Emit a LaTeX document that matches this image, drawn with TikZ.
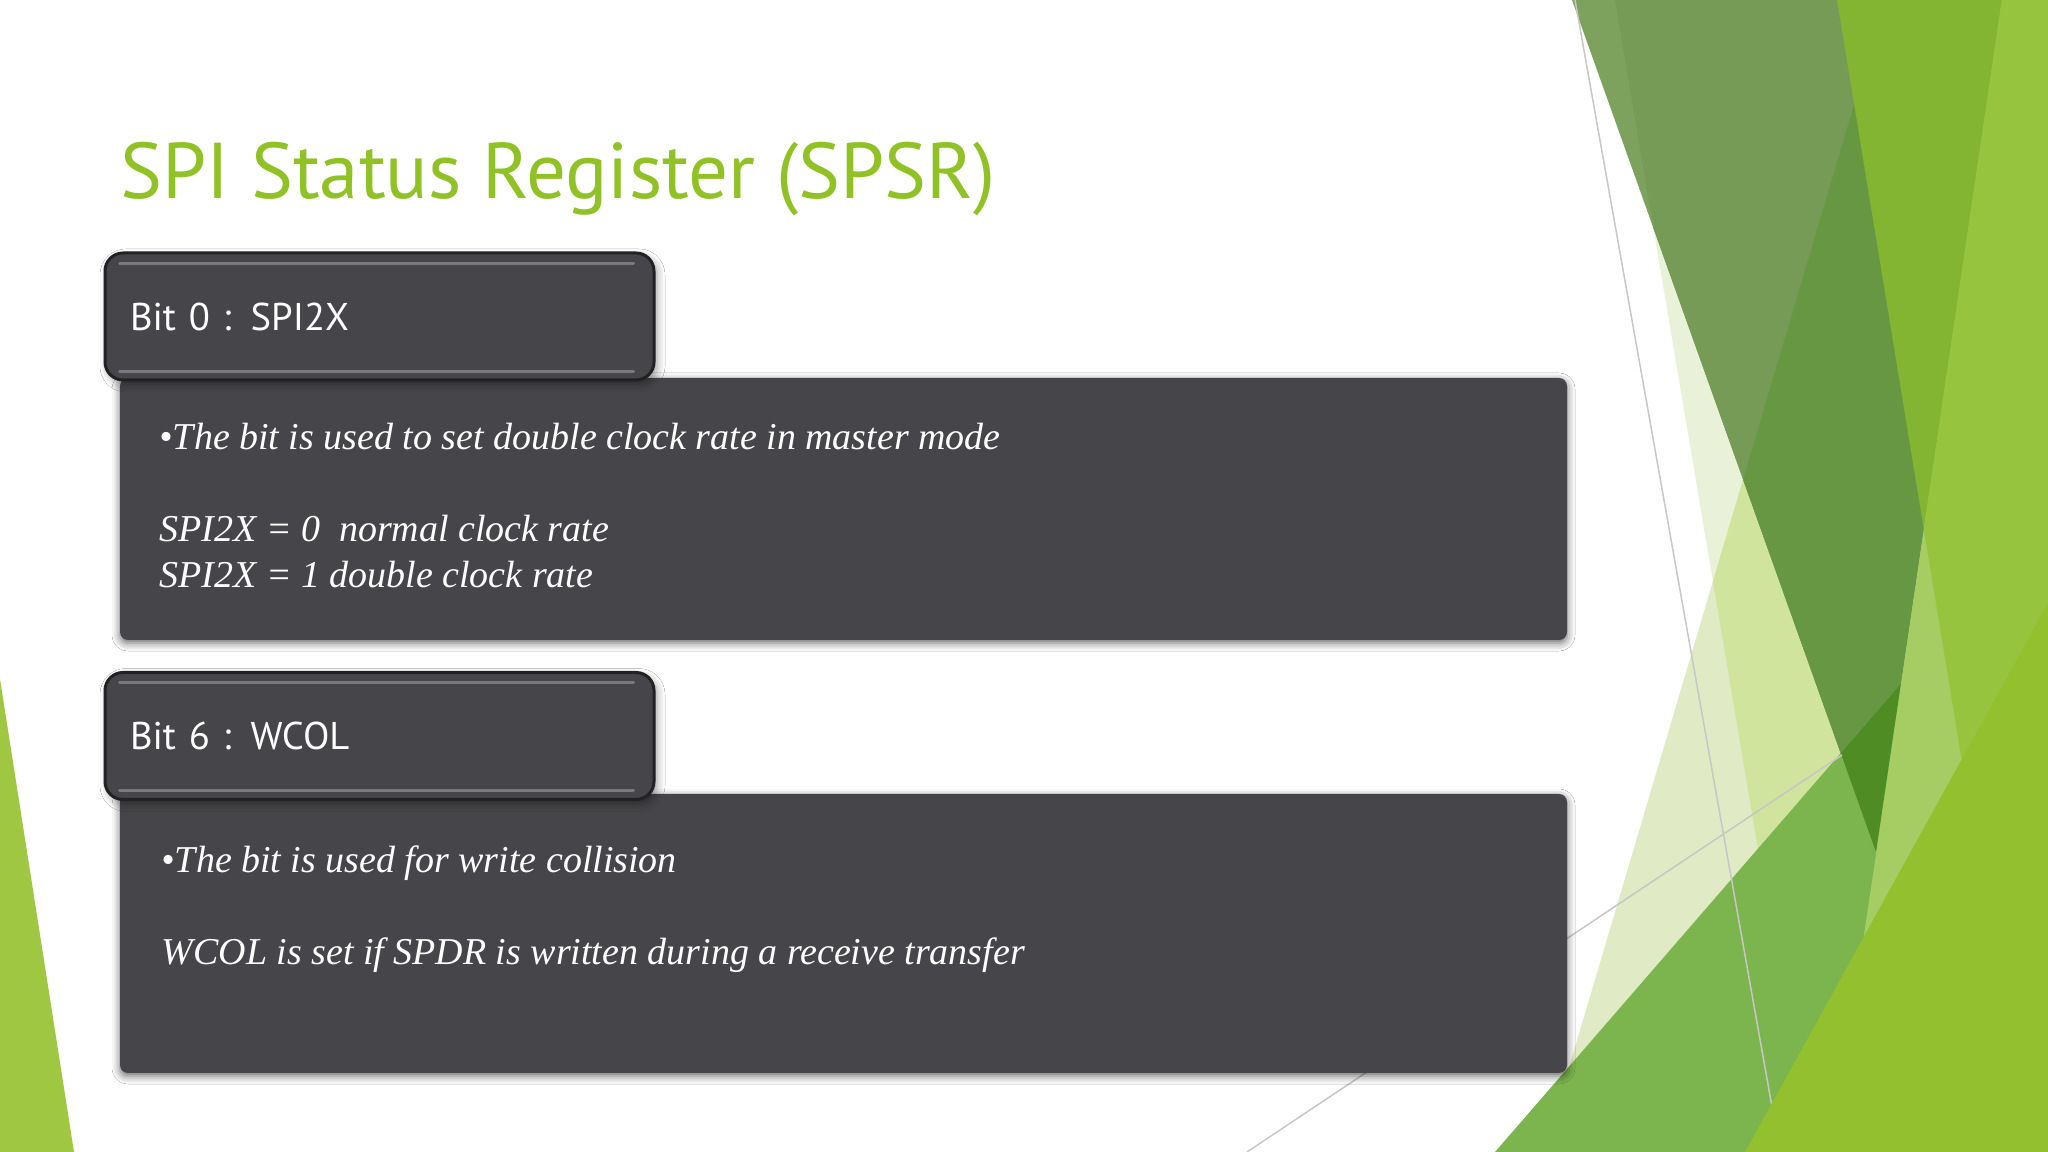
\documentclass[tikz,border=0pt]{standalone}
\usepackage{fontspec}
\setmainfont{Liberation Serif}
\newfontfamily\headfont{PT Sans}
\usetikzlibrary{shadows.blur}
\definecolor{facet}{RGB}{144,194,38}
\definecolor{boxgray}{RGB}{70,69,73}
\definecolor{boxedge}{RGB}{34,33,36}
\definecolor{pale}{RGB}{233,242,216}
\definecolor{light}{RGB}{224,234,196}
\definecolor{palelight}{RGB}{208,228,158}
\definecolor{greyg}{RGB}{124,162,94}
\definecolor{greygpale}{RGB}{118,155,86}
\definecolor{darkg}{RGB}{104,151,68}
\definecolor{band}{RGB}{124,180,78}
\definecolor{bandd}{RGB}{80,140,36}
\definecolor{olive}{RGB}{131,180,50}
\definecolor{lime}{RGB}{165,205,100}
\definecolor{limeo}{RGB}{150,196,62}
\definecolor{bright}{RGB}{146,192,46}
\definecolor{leftg}{RGB}{160,199,66}
\tikzset{
	headbox/.style={fill=boxgray, draw=boxedge, line width=0.3mm, rounded corners=1.8mm,
		blur shadow={shadow xshift=0.3mm, shadow yshift=-0.4mm, shadow blur radius=0.8mm, shadow opacity=40},
		minimum width=54.9mm, minimum height=12.7mm, text width=49.9mm, inner xsep=2.5mm, inner ysep=0pt,
		align=left, text=white, font=\headfont\fontsize{11}{13}\selectfont},
	bodybox/.style={fill=boxgray, rounded corners=0.8mm,
		blur shadow={shadow xshift=0mm, shadow yshift=-0.3mm, shadow blur radius=0.8mm, shadow opacity=60},
		minimum width=144.7mm, inner sep=0pt},
	bodytext/.style={anchor=base west, inner sep=0pt, align=left, text=white,
		font=\itshape\fontsize{10.8}{13.1}\selectfont},
	bevel/.style={draw=boxgray!72!white, line width=0.3mm, line cap=round},
	thinline/.style={draw=black!22, line width=0.15mm}
}
\def\facetPale{(1615,0) -- (2048,0) -- (2048,1152) -- (1809,1152) -- cycle}
\def\facetLight{(1885,0) -- (2048,0) -- (2048,1152) -- (1544,1152) -- cycle}
\def\facetDark{(1572,0) -- (2002,0) -- (1876,852) -- cycle}
\def\facetBand{(1495,1152) -- (2048,514) -- (2048,1152) -- cycle}
\def\facetOlive{(1837,0) -- (2048,0) -- (2048,1152) -- (2026,1152) -- cycle}
\def\facetLime{(2002,0) -- (2048,0) -- (2048,1152) -- (1832,1152) -- cycle}
\def\facetBright{(1745,1152) -- (2048,603) -- (2048,1152) -- cycle}

\begin{document}
\begin{tikzpicture}[x=0.1mm, y=-0.1mm]
	\useasboundingbox (0,0) rectangle (2048,1152);
	\fill[white] (0,0) rectangle (2048,1152);
	% facets on the right
	\fill[pale] \facetPale;
	\fill[light] \facetLight;
	\begin{scope}
		\clip \facetPale;
		\fill[palelight] \facetLight;
	\end{scope}
	\fill[greyg] \facetDark;
	\begin{scope}
		\clip \facetDark;
		\fill[greygpale] \facetPale;
		\fill[darkg] \facetLight;
	\end{scope}
	\fill[band] \facetBand;
	\begin{scope}
		\clip \facetBand;
		\fill[bandd] \facetDark;
	\end{scope}
	\coordinate (l1a) at (1575,0);
	\coordinate (l1b) at (1780,1152);
	\draw[thinline] (l1a) -- (l1b);
	\fill[olive] \facetOlive;
	\fill[lime] \facetLime;
	\begin{scope}
		\clip \facetLime;
		\fill[limeo] \facetOlive;
	\end{scope}
	\fill[bright] \facetBright;
	% facet on the left
	\fill[leftg] (0,679) -- (74,1152) -- (0,1152) -- cycle;
	\coordinate (l2a) at (1247,1152);
	\coordinate (l2b) at (1842,755);
	\draw[thinline] (l2a) -- (l2b);

	\node[anchor=base west, inner sep=0pt, text=facet, font=\headfont\fontsize{22.5}{27}\selectfont] (title) at (120,199) {SPI Status Register (SPSR)};

	% bit 0
	\node[bodybox, minimum height=26.2mm] (body0) at (843.5,509) {};
	\node[headbox] (head0) at (379.5,316.5) {Bit 0 : SPI2X};
	\draw[bevel] ([xshift=1.6mm, yshift=-1.2mm]head0.north west) -- ([xshift=-2.2mm, yshift=-1.2mm]head0.north east);
	\draw[bevel] ([xshift=1.6mm, yshift=1mm]head0.south west) -- ([xshift=-2.2mm, yshift=1mm]head0.south east);
	\node[bodytext] (text0) at (159,588) {•The bit is used to set double clock rate in master mode\\[4.6mm]
		SPI2X = 0 \ normal clock rate\\
		SPI2X = 1 double clock rate};

	% bit 6
	\node[bodybox, minimum height=27.9mm] (body6) at (843.5,933.5) {};
	\node[headbox] (head6) at (379.5,736) {Bit 6 : WCOL};
	\draw[bevel] ([xshift=1.6mm, yshift=-1.2mm]head6.north west) -- ([xshift=-2.2mm, yshift=-1.2mm]head6.north east);
	\draw[bevel] ([xshift=1.6mm, yshift=1mm]head6.south west) -- ([xshift=-2.2mm, yshift=1mm]head6.south east);
	\node[bodytext] (text6) at (161,965) {•The bit is used for write collision\\[4.6mm]
		WCOL is set if SPDR is written during a receive transfer};
\end{tikzpicture}
\end{document}
